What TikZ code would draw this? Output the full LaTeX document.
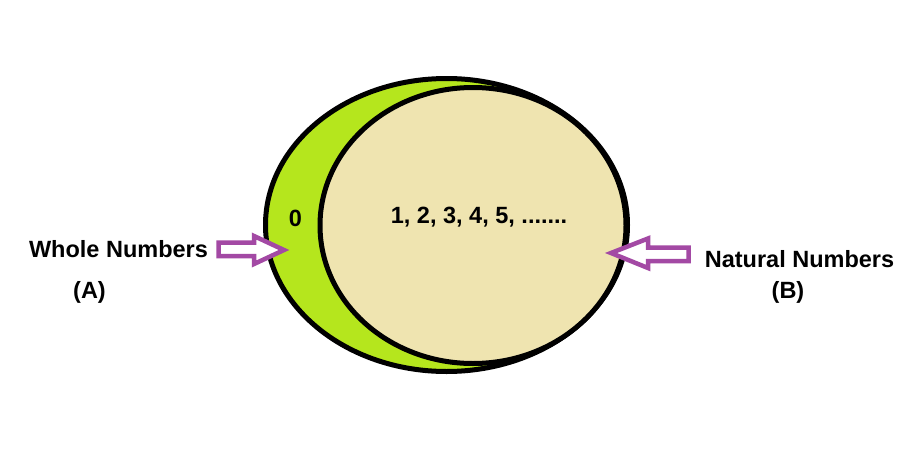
\documentclass[tikz,border=0pt]{standalone}
\usepackage{fontspec}
\setmainfont{Liberation Sans}
\definecolor{limeA}{HTML}{B5E61D}
\definecolor{tanA}{HTML}{EFE4B0}
\definecolor{purpleA}{HTML}{A349A4}
\begin{document}
\begin{tikzpicture}[x=1pt, y=-1pt,
    setline/.style={draw=black, line width=5pt},
    blockarrow/.style={draw=purpleA, fill=white, line width=4.5pt, line join=miter},
    lbl/.style={anchor=base, inner sep=0pt, font=\fontsize{23.5}{28}\selectfont\bfseries}]

        % page frame
        \useasboundingbox (0,0) rectangle (924,450);
        \fill[white] (0,0) rectangle (924,450);

        % the two sets: whole numbers (A) and natural numbers (B)
        \draw[setline, fill=limeA] (446.5,225) coordinate (A centre) ellipse [x radius=181, y radius=146.5];
        \draw[setline, fill=tanA] (473,225.5) coordinate (B centre) ellipse [x radius=153, y radius=138];

        % members
        \node[lbl] (zero) at (295.5,226) {0};
        \node[lbl] (nums) at (479,223) {1, 2, 3, 4, 5, .......};

        % names of the sets
        \node[lbl] (whole) at (118.5,257) {Whole Numbers};
        \node[lbl] (A) at (89.5,298) {(A)};
        \node[lbl] (natural) at (799.5,267) {Natural Numbers};
        \node[lbl] (B) at (788,298) {(B)};

        % block arrows pointing at the sets
        \draw[blockarrow] (218.5,242.5) -- (254,242.5) -- (254,236) -- (284,250) -- (254,264) -- (254,256) -- (218.5,256) -- cycle;
        \draw[blockarrow] (688.5,247.5) -- (648,247.5) -- (648,238.5) -- (611,253) -- (648,268) -- (648,261) -- (688.5,261) -- cycle;

\end{tikzpicture}
\end{document}
